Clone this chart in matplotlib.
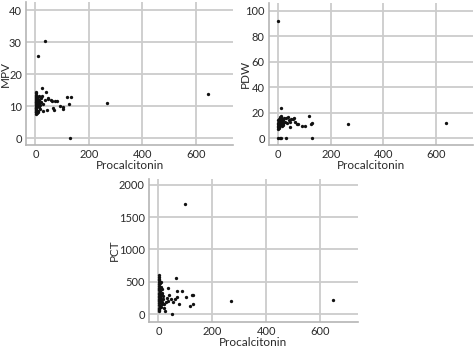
import matplotlib
matplotlib.use('Agg')
import matplotlib.pyplot as plt

# Procalcitonin vs MPV
mpv_x = [1, 2, 1, 3, 0.5, 2, 4, 1, 3, 0.5, 5, 2, 1, 6, 3, 0.5, 8, 2, 4, 1, 10, 3, 0.5, 6, 2, 1, 4, 2, 1, 2,
         12, 14, 15, 18, 12, 16, 10, 8, 20, 22, 9, 7, 13, 5,
         36, 11, 26, 40, 46, 48, 58, 63, 73, 80, 117, 132, 127, 92, 102, 102, 67, 70, 42, 27, 129, 268, 645,
         30, 35, 25]
mpv_y = [7.6, 8.0, 8.3, 8.6, 8.9, 9.1, 9.3, 9.5, 9.7, 9.9, 10.0, 10.2, 10.4, 10.5, 10.7, 10.9, 11.0, 11.2, 11.4,
         11.6, 11.7, 11.9, 12.1, 12.3, 12.6, 12.9, 13.2, 13.6, 14.0, 14.4,
         13.0, 12.0, 10.8, 10.2, 9.6, 9.0, 8.6, 8.2, 11.4, 12.5, 12.8, 9.9, 11.1, 7.9,
         30.3, 25.5, 15.5, 14.4, 12.4, 12.1, 11.8, 11.6, 11.5, 11.6, 12.7, 12.7, 10.8, 9.9, 9.6, 9.1, 9.5, 8.7,
         8.7, 8.5, 0.0, 10.9, 13.7,
         10.5, 11.8, 13.0]

# Procalcitonin vs PDW
pdw_x = [1, 2, 0.5, 3, 1, 4, 2, 0.5, 5, 1, 3, 2, 6, 1, 8, 3, 10, 5, 12, 9, 14, 16, 18, 20, 15, 11, 7, 13,
         22, 19, 24, 4, 9, 17,
         1, 10, 0, 5, 11, 28, 128, 118, 130, 126, 30, 40, 38, 48, 55, 60, 45, 65, 70, 76, 92, 101, 44, 35,
         266, 639]
pdw_y = [7.5, 8.2, 8.8, 9.3, 9.8, 10.3, 10.8, 11.3, 11.7, 12.2, 12.7, 13.2, 13.6, 14.1, 14.6, 15.1, 15.6, 16.2,
         16.8, 17.4, 15.0, 13.5, 12.0, 10.5, 9.5, 11.0, 12.5, 14.0, 16.0, 14.5, 13.0, 9.0, 10.0, 11.5,
         91.6, 23.3, 0, 0, 0, 0.3, 0, 17.3, 11.8, 11.2, 15.5, 14.5, 16.2, 15.0, 14.8, 15.5, 13.0, 12.5, 11.0,
         11.2, 9.8, 9.8, 8.5, 11.5, 11.3, 12.0]

# Procalcitonin vs PCT
pct_x = [1, 2, 0.5, 3, 1, 5, 2, 0.5, 4, 1, 3, 6, 2, 0.5, 8, 1, 4, 2, 10, 0.5, 3, 6, 1, 12, 2, 5, 1, 3, 0.5, 2,
         8, 10, 12, 14, 16, 18, 9, 15, 20, 11, 22, 25, 7, 13,
         99, 64, 37, 70, 88, 101, 127, 123, 127, 117, 51, 268, 648, 30, 35, 45, 55, 62, 68, 75, 40, 28]
pct_y = [610, 580, 550, 530, 500, 480, 460, 430, 410, 390, 370, 350, 330, 310, 300, 280, 260, 240, 225, 210,
         195, 180, 165, 150, 135, 120, 100, 80, 60, 40,
         500, 420, 380, 330, 280, 240, 200, 180, 160, 110, 90, 50, 260, 300,
         1705, 553, 398, 351, 351, 269, 295, 290, 155, 130, 0, 207, 217, 250, 200, 230, 190, 240, 270, 150,
         300, 180]

plt.rcParams['font.family'] = ['Lato', 'DejaVu Sans']

GRID = '#cccccc'
TEXT = '#2a2a2a'


def style_axes(ax, xdata, ydata, ylabel, ylim, yticks, ylab_x):
    ax.plot(xdata, ydata, linestyle='none', marker='o', markersize=2.4,
            markerfacecolor='#111111', markeredgewidth=0, zorder=3)
    ax.set_xlim(-35, 740)
    ax.set_ylim(*ylim)
    ax.set_xticks([0, 200, 400, 600])
    ax.set_yticks(yticks)
    ax.grid(True, color=GRID, linewidth=1.3, zorder=0)
    ax.set_axisbelow(True)
    for side in ['top', 'right']:
        ax.spines[side].set_visible(False)
    for side in ['left', 'bottom']:
        ax.spines[side].set_color('#b5b5b5')
        ax.spines[side].set_linewidth(1.2)
    ax.tick_params(length=0, labelsize=8, labelcolor=TEXT, pad=3)
    ax.set_xlabel('Procalcitonin', fontsize=8.5, color=TEXT)
    ax.set_ylabel(ylabel, fontsize=8.5, color=TEXT)
    ax.xaxis.set_label_coords(0.5, -0.105)
    ax.yaxis.set_label_coords(ylab_x, 0.5)


fig = plt.figure(figsize=(4.74, 3.48), dpi=100)

ax1 = fig.add_axes([0.055, 0.583, 0.437, 0.411])
style_axes(ax1, mpv_x, mpv_y, 'MPV', (-2.2, 42.5), [0, 10, 20, 30, 40], -0.075)

ax2 = fig.add_axes([0.5675, 0.583, 0.43, 0.408])
style_axes(ax2, pdw_x, pdw_y, 'PDW', (-5.5, 106), [0, 20, 40, 60, 80, 100], -0.09)

ax3 = fig.add_axes([0.3143, 0.0747, 0.441, 0.411])
style_axes(ax3, pct_x, pct_y, 'PCT', (-124, 2093), [0, 500, 1000, 1500, 2000], -0.14)

fig.savefig('out.png', dpi=100)
